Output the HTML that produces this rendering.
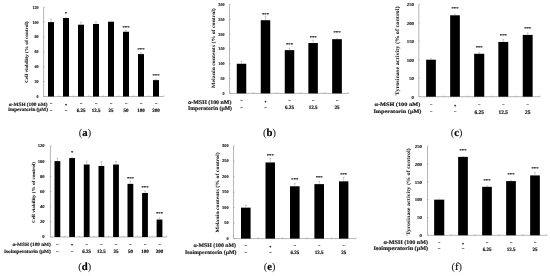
<!DOCTYPE html>
<html lang="en">
<head>
<meta charset="utf-8">
<title>Figure</title>
<style>
html,body{margin:0;padding:0;background:#fff;}
body{width:550px;height:276px;overflow:hidden;}
svg{display:block;}
svg text{text-rendering:geometricPrecision;font-family:"Liberation Serif", serif;font-weight:700;fill:#1a1a1a;stroke:#1a1a1a;stroke-width:0.12px;}
</style>
</head>
<body>
<svg width="550" height="276" viewBox="0 0 550 276">
<rect width="550" height="276" fill="#fff"/>
<g id="chart-a">
<path d="M43.6 7.22V96.5H163.6" fill="none" stroke="#858585" stroke-width="0.6"/>
<text x="38.7" y="97.92" font-size="4.3" text-anchor="end" textLength="2.1" lengthAdjust="spacingAndGlyphs">0</text>
<text x="38.7" y="83.04" font-size="4.3" text-anchor="end" textLength="4.2" lengthAdjust="spacingAndGlyphs">20</text>
<text x="38.7" y="68.16" font-size="4.3" text-anchor="end" textLength="4.2" lengthAdjust="spacingAndGlyphs">40</text>
<text x="38.7" y="53.28" font-size="4.3" text-anchor="end" textLength="4.2" lengthAdjust="spacingAndGlyphs">60</text>
<text x="38.7" y="38.4" font-size="4.3" text-anchor="end" textLength="4.2" lengthAdjust="spacingAndGlyphs">80</text>
<text x="38.7" y="23.52" font-size="4.3" text-anchor="end" textLength="6.3" lengthAdjust="spacingAndGlyphs">100</text>
<text x="38.7" y="8.64" font-size="4.3" text-anchor="end" textLength="6.3" lengthAdjust="spacingAndGlyphs">120</text>
<path d="M43.6 96.5h1.2M43.6 81.62h1.2M43.6 66.74h1.2M43.6 51.86h1.2M43.6 36.98h1.2M43.6 22.1h1.2M43.6 7.22h1.2M58.6 96.5v-1.2M73.6 96.5v-1.2M88.6 96.5v-1.2M103.6 96.5v-1.2M118.6 96.5v-1.2M133.6 96.5v-1.2M148.6 96.5v-1.2M163.6 96.5v-1.2" fill="none" stroke="#858585" stroke-width="0.5"/>
<rect x="48" y="22.1" width="6" height="74.4" fill="#000"/>
<path d="M51 22.1v-3m-0.8 0h1.6" fill="none" stroke="#8a8a8a" stroke-width="0.45"/>
<rect x="63" y="18.01" width="6" height="78.49" fill="#000"/>
<path d="M65.2 17.31h1.6" fill="none" stroke="#8a8a8a" stroke-width="0.45"/>
<text x="66" y="14.8" font-size="4.6" text-anchor="middle" style="fill:#1a1a1a;stroke:#1a1a1a;stroke-width:0.08px">*</text>
<rect x="78" y="24.7" width="6" height="71.8" fill="#000"/>
<path d="M81 24.7v-2.5m-0.8 0h1.6" fill="none" stroke="#8a8a8a" stroke-width="0.45"/>
<rect x="93" y="23.96" width="6" height="72.54" fill="#000"/>
<path d="M96 23.96v-2.5m-0.8 0h1.6" fill="none" stroke="#8a8a8a" stroke-width="0.45"/>
<rect x="108" y="21.73" width="6" height="74.77" fill="#000"/>
<path d="M110.2 21.23h1.6" fill="none" stroke="#8a8a8a" stroke-width="0.45"/>
<rect x="123" y="31.77" width="6" height="64.73" fill="#000"/>
<path d="M126 31.77v-1.5m-0.8 0h1.6" fill="none" stroke="#8a8a8a" stroke-width="0.45"/>
<text x="126" y="28.6" font-size="4.6" text-anchor="middle" style="fill:#1a1a1a;stroke:#1a1a1a;stroke-width:0.08px">***</text>
<rect x="138" y="54.09" width="6" height="42.41" fill="#000"/>
<path d="M141 54.09v-1.2m-0.8 0h1.6" fill="none" stroke="#8a8a8a" stroke-width="0.45"/>
<text x="141" y="51" font-size="4.6" text-anchor="middle" style="fill:#1a1a1a;stroke:#1a1a1a;stroke-width:0.08px">***</text>
<rect x="153" y="80.13" width="6" height="16.37" fill="#000"/>
<path d="M156 80.13v-1m-0.8 0h1.6" fill="none" stroke="#8a8a8a" stroke-width="0.45"/>
<text x="156" y="77.2" font-size="4.6" text-anchor="middle" style="fill:#1a1a1a;stroke:#1a1a1a;stroke-width:0.08px">***</text>
<text transform="translate(28.3 52.15) rotate(-90)" font-size="4.7" text-anchor="middle" textLength="61.5" lengthAdjust="spacingAndGlyphs" style="stroke-width:0.04px">Cell viability (% of control)</text>
<text x="8.8" y="106" font-size="5.0" textLength="38.7" lengthAdjust="spacingAndGlyphs" style="stroke-width:0.16px">α-MSH (100 nM)</text>
<text x="7.9" y="111" font-size="5.0" textLength="40" lengthAdjust="spacingAndGlyphs" style="stroke-width:0.16px">Imperatorin (μM)</text>
<text x="49.65" y="105.33" font-size="5.0" textLength="2.7" lengthAdjust="spacingAndGlyphs" style="fill:#222;stroke:#222;stroke-width:0.15px">-</text>
<text x="66" y="106.09" font-size="3.6" text-anchor="middle" style="stroke-width:0.32px">+</text>
<text x="79.65" y="105.33" font-size="5.0" textLength="2.7" lengthAdjust="spacingAndGlyphs" style="fill:#222;stroke:#222;stroke-width:0.15px">-</text>
<text x="94.65" y="105.33" font-size="5.0" textLength="2.7" lengthAdjust="spacingAndGlyphs" style="fill:#222;stroke:#222;stroke-width:0.15px">-</text>
<text x="109.65" y="105.33" font-size="5.0" textLength="2.7" lengthAdjust="spacingAndGlyphs" style="fill:#222;stroke:#222;stroke-width:0.15px">-</text>
<text x="124.65" y="105.33" font-size="5.0" textLength="2.7" lengthAdjust="spacingAndGlyphs" style="fill:#222;stroke:#222;stroke-width:0.15px">-</text>
<text x="139.65" y="105.33" font-size="5.0" textLength="2.7" lengthAdjust="spacingAndGlyphs" style="fill:#222;stroke:#222;stroke-width:0.15px">-</text>
<text x="154.65" y="105.33" font-size="5.0" textLength="2.7" lengthAdjust="spacingAndGlyphs" style="fill:#222;stroke:#222;stroke-width:0.15px">-</text>
<text x="49.65" y="111.53" font-size="5.0" textLength="2.7" lengthAdjust="spacingAndGlyphs" style="fill:#222;stroke:#222;stroke-width:0.15px">-</text>
<text x="64.65" y="111.53" font-size="5.0" textLength="2.7" lengthAdjust="spacingAndGlyphs" style="fill:#222;stroke:#222;stroke-width:0.15px">-</text>
<text x="81" y="112.05" font-size="5.0" text-anchor="middle" style="stroke-width:0.2px">6.25</text>
<text x="96" y="112.05" font-size="5.0" text-anchor="middle" style="stroke-width:0.2px">12.5</text>
<text x="111" y="112.05" font-size="5.0" text-anchor="middle" style="stroke-width:0.2px">25</text>
<text x="126" y="112.05" font-size="5.0" text-anchor="middle" style="stroke-width:0.2px">50</text>
<text x="141" y="112.05" font-size="5.0" text-anchor="middle" style="stroke-width:0.2px">100</text>
<text x="156" y="112.05" font-size="5.0" text-anchor="middle" style="stroke-width:0.2px">200</text>
<text x="85" y="135.7" font-size="10.4" text-anchor="middle" style="font-weight:400;fill:#222;stroke:#222;stroke-width:0.08px">(<tspan font-size="10.7" style="font-weight:700;fill:#000;stroke:#000;stroke-width:0.2px">a</tspan>)</text>
</g>
<g id="chart-b">
<path d="M229.5 4.51V93.4H348.6" fill="none" stroke="#858585" stroke-width="0.6"/>
<text x="224.6" y="94.82" font-size="4.3" text-anchor="end" textLength="2.1" lengthAdjust="spacingAndGlyphs">0</text>
<text x="224.6" y="80" font-size="4.3" text-anchor="end" textLength="4.2" lengthAdjust="spacingAndGlyphs">50</text>
<text x="224.6" y="65.19" font-size="4.3" text-anchor="end" textLength="6.3" lengthAdjust="spacingAndGlyphs">100</text>
<text x="224.6" y="50.37" font-size="4.3" text-anchor="end" textLength="6.3" lengthAdjust="spacingAndGlyphs">150</text>
<text x="224.6" y="35.56" font-size="4.3" text-anchor="end" textLength="6.3" lengthAdjust="spacingAndGlyphs">200</text>
<text x="224.6" y="20.74" font-size="4.3" text-anchor="end" textLength="6.3" lengthAdjust="spacingAndGlyphs">250</text>
<text x="224.6" y="5.93" font-size="4.3" text-anchor="end" textLength="6.3" lengthAdjust="spacingAndGlyphs">300</text>
<path d="M229.5 93.4h1.2M229.5 78.59h1.2M229.5 63.77h1.2M229.5 48.96h1.2M229.5 34.14h1.2M229.5 19.33h1.2M229.5 4.51h1.2M253.32 93.4v-1.2M277.14 93.4v-1.2M300.96 93.4v-1.2M324.78 93.4v-1.2M348.6 93.4v-1.2" fill="none" stroke="#858585" stroke-width="0.5"/>
<rect x="236.75" y="63.77" width="9.5" height="29.63" fill="#000"/>
<path d="M241.5 63.77v-2.5m-0.8 0h1.6" fill="none" stroke="#8a8a8a" stroke-width="0.45"/>
<rect x="260.75" y="20.21" width="9.5" height="73.19" fill="#000"/>
<path d="M265.5 20.21v-4.2m-0.8 0h1.6" fill="none" stroke="#8a8a8a" stroke-width="0.45"/>
<text x="265.5" y="15.8" font-size="4.6" text-anchor="middle" style="fill:#1a1a1a;stroke:#1a1a1a;stroke-width:0.08px">***</text>
<rect x="284.75" y="50.14" width="9.5" height="43.26" fill="#000"/>
<path d="M289.5 50.14v-1.8m-0.8 0h1.6" fill="none" stroke="#8a8a8a" stroke-width="0.45"/>
<text x="289.5" y="45.8" font-size="4.6" text-anchor="middle" style="fill:#1a1a1a;stroke:#1a1a1a;stroke-width:0.08px">***</text>
<rect x="308.35" y="43.03" width="9.5" height="50.37" fill="#000"/>
<path d="M313.1 43.03v-3m-0.8 0h1.6" fill="none" stroke="#8a8a8a" stroke-width="0.45"/>
<text x="313.1" y="38.6" font-size="4.6" text-anchor="middle" style="fill:#1a1a1a;stroke:#1a1a1a;stroke-width:0.08px">***</text>
<rect x="332.15" y="39.18" width="9.7" height="54.22" fill="#000"/>
<path d="M336.2 38.48h1.6" fill="none" stroke="#8a8a8a" stroke-width="0.45"/>
<text x="337" y="34.2" font-size="4.6" text-anchor="middle" style="fill:#1a1a1a;stroke:#1a1a1a;stroke-width:0.08px">***</text>
<text transform="translate(215 48.15) rotate(-90)" font-size="5" text-anchor="middle" textLength="79.7" lengthAdjust="spacingAndGlyphs" style="stroke-width:0.04px">Melanin contents (% of control)</text>
<text x="188" y="103.9" font-size="5.6" textLength="43.4" lengthAdjust="spacingAndGlyphs" style="stroke-width:0.16px">α-MSH (100 nM)</text>
<text x="188" y="110" font-size="5.6" textLength="44" lengthAdjust="spacingAndGlyphs" style="stroke-width:0.16px">Imperatorin (μM)</text>
<text x="240.15" y="101.75" font-size="5.1" textLength="2.7" lengthAdjust="spacingAndGlyphs" style="fill:#222;stroke:#222;stroke-width:0.15px">-</text>
<text x="265.5" y="102.51" font-size="3.67" text-anchor="middle" style="stroke-width:0.32px">+</text>
<text x="288.15" y="101.75" font-size="5.1" textLength="2.7" lengthAdjust="spacingAndGlyphs" style="fill:#222;stroke:#222;stroke-width:0.15px">-</text>
<text x="311.75" y="101.75" font-size="5.1" textLength="2.7" lengthAdjust="spacingAndGlyphs" style="fill:#222;stroke:#222;stroke-width:0.15px">-</text>
<text x="335.65" y="101.75" font-size="5.1" textLength="2.7" lengthAdjust="spacingAndGlyphs" style="fill:#222;stroke:#222;stroke-width:0.15px">-</text>
<text x="240.15" y="108.55" font-size="5.1" textLength="2.7" lengthAdjust="spacingAndGlyphs" style="fill:#222;stroke:#222;stroke-width:0.15px">-</text>
<text x="264.15" y="108.55" font-size="5.1" textLength="2.7" lengthAdjust="spacingAndGlyphs" style="fill:#222;stroke:#222;stroke-width:0.15px">-</text>
<text x="289.5" y="109.08" font-size="5.1" text-anchor="middle" style="stroke-width:0.2px">6.25</text>
<text x="313.1" y="109.08" font-size="5.1" text-anchor="middle" style="stroke-width:0.2px">12.5</text>
<text x="337" y="109.08" font-size="5.1" text-anchor="middle" style="stroke-width:0.2px">25</text>
<text x="269.4" y="135.7" font-size="10.4" text-anchor="middle" style="font-weight:400;fill:#222;stroke:#222;stroke-width:0.08px">(<tspan font-size="10.7" style="font-weight:700;fill:#000;stroke:#000;stroke-width:0.2px">b</tspan>)</text>
</g>
<g id="chart-c">
<path d="M418.8 4.2V96.7H540" fill="none" stroke="#858585" stroke-width="0.6"/>
<text x="414" y="98.52" font-size="4.6" text-anchor="end" textLength="2.4" lengthAdjust="spacingAndGlyphs">0</text>
<text x="414" y="80.02" font-size="4.6" text-anchor="end" textLength="4.8" lengthAdjust="spacingAndGlyphs">50</text>
<text x="414" y="61.52" font-size="4.6" text-anchor="end" textLength="7.2" lengthAdjust="spacingAndGlyphs">100</text>
<text x="414" y="43.02" font-size="4.6" text-anchor="end" textLength="7.2" lengthAdjust="spacingAndGlyphs">150</text>
<text x="414" y="24.52" font-size="4.6" text-anchor="end" textLength="7.2" lengthAdjust="spacingAndGlyphs">200</text>
<text x="414" y="6.02" font-size="4.6" text-anchor="end" textLength="7.2" lengthAdjust="spacingAndGlyphs">250</text>
<path d="M418.8 96.7h1.2M418.8 78.2h1.2M418.8 59.7h1.2M418.8 41.2h1.2M418.8 22.7h1.2M418.8 4.2h1.2M443.04 96.7v-1.2M467.28 96.7v-1.2M491.52 96.7v-1.2M515.76 96.7v-1.2M540 96.7v-1.2" fill="none" stroke="#858585" stroke-width="0.5"/>
<rect x="426.15" y="59.7" width="9.7" height="37" fill="#000"/>
<path d="M431 59.7v-1m-0.8 0h1.6" fill="none" stroke="#8a8a8a" stroke-width="0.45"/>
<rect x="450.15" y="15.3" width="9.7" height="81.4" fill="#000"/>
<path d="M455 15.3v-1m-0.8 0h1.6" fill="none" stroke="#8a8a8a" stroke-width="0.45"/>
<text x="455" y="10.1" font-size="4.6" text-anchor="middle" style="fill:#1a1a1a;stroke:#1a1a1a;stroke-width:0.08px">***</text>
<rect x="474.15" y="53.78" width="10.1" height="42.92" fill="#000"/>
<path d="M479.2 53.78v-1.5m-0.8 0h1.6" fill="none" stroke="#8a8a8a" stroke-width="0.45"/>
<text x="479.2" y="49.1" font-size="4.6" text-anchor="middle" style="fill:#1a1a1a;stroke:#1a1a1a;stroke-width:0.08px">***</text>
<rect x="498.35" y="41.94" width="9.9" height="54.76" fill="#000"/>
<path d="M503.3 41.94v-2.5m-0.8 0h1.6" fill="none" stroke="#8a8a8a" stroke-width="0.45"/>
<text x="503.3" y="36.7" font-size="4.6" text-anchor="middle" style="fill:#1a1a1a;stroke:#1a1a1a;stroke-width:0.08px">***</text>
<rect x="522.75" y="34.91" width="9.9" height="61.79" fill="#000"/>
<path d="M527.7 34.91v-2m-0.8 0h1.6" fill="none" stroke="#8a8a8a" stroke-width="0.45"/>
<text x="527.7" y="29.7" font-size="4.6" text-anchor="middle" style="fill:#1a1a1a;stroke:#1a1a1a;stroke-width:0.08px">***</text>
<text transform="translate(399.2 50.9) rotate(-90)" font-size="5.4" text-anchor="middle" textLength="88.8" lengthAdjust="spacingAndGlyphs" style="stroke-width:0.04px">Tyrosinase activity (% of control)</text>
<text x="374.4" y="106.2" font-size="5.2" textLength="46" lengthAdjust="spacingAndGlyphs" style="stroke-width:0.16px">α-MSH (100 nM)</text>
<text x="373.4" y="112.7" font-size="5.2" textLength="48" lengthAdjust="spacingAndGlyphs" style="stroke-width:0.16px">Imperatorin (μM)</text>
<text x="429.65" y="106.22" font-size="5.4" textLength="2.7" lengthAdjust="spacingAndGlyphs" style="fill:#222;stroke:#222;stroke-width:0.15px">-</text>
<text x="455" y="106.98" font-size="3.89" text-anchor="middle" style="stroke-width:0.32px">+</text>
<text x="477.85" y="106.22" font-size="5.4" textLength="2.7" lengthAdjust="spacingAndGlyphs" style="fill:#222;stroke:#222;stroke-width:0.15px">-</text>
<text x="501.95" y="106.22" font-size="5.4" textLength="2.7" lengthAdjust="spacingAndGlyphs" style="fill:#222;stroke:#222;stroke-width:0.15px">-</text>
<text x="526.35" y="106.22" font-size="5.4" textLength="2.7" lengthAdjust="spacingAndGlyphs" style="fill:#222;stroke:#222;stroke-width:0.15px">-</text>
<text x="429.65" y="112.81" font-size="5.4" textLength="2.7" lengthAdjust="spacingAndGlyphs" style="fill:#222;stroke:#222;stroke-width:0.15px">-</text>
<text x="453.65" y="112.81" font-size="5.4" textLength="2.7" lengthAdjust="spacingAndGlyphs" style="fill:#222;stroke:#222;stroke-width:0.15px">-</text>
<text x="479.2" y="113.78" font-size="5.4" text-anchor="middle" style="stroke-width:0.2px">6.25</text>
<text x="503.3" y="113.78" font-size="5.4" text-anchor="middle" style="stroke-width:0.2px">12.5</text>
<text x="527.7" y="113.78" font-size="5.4" text-anchor="middle" style="stroke-width:0.2px">25</text>
<text x="456.5" y="135.7" font-size="10.4" text-anchor="middle" style="font-weight:400;fill:#222;stroke:#222;stroke-width:0.08px">(<tspan font-size="10.7" style="font-weight:700;fill:#000;stroke:#000;stroke-width:0.2px">c</tspan>)</text>
</g>
<g id="chart-d">
<path d="M50.4 145.92V237H166.6" fill="none" stroke="#858585" stroke-width="0.6"/>
<text x="44.6" y="238.49" font-size="4.5" text-anchor="end" textLength="2.3" lengthAdjust="spacingAndGlyphs">0</text>
<text x="44.6" y="223.31" font-size="4.5" text-anchor="end" textLength="4.6" lengthAdjust="spacingAndGlyphs">20</text>
<text x="44.6" y="208.12" font-size="4.5" text-anchor="end" textLength="4.6" lengthAdjust="spacingAndGlyphs">40</text>
<text x="44.6" y="192.95" font-size="4.5" text-anchor="end" textLength="4.6" lengthAdjust="spacingAndGlyphs">60</text>
<text x="44.6" y="177.77" font-size="4.5" text-anchor="end" textLength="4.6" lengthAdjust="spacingAndGlyphs">80</text>
<text x="44.6" y="162.59" font-size="4.5" text-anchor="end" textLength="6.9" lengthAdjust="spacingAndGlyphs">100</text>
<text x="44.6" y="147.41" font-size="4.5" text-anchor="end" textLength="6.9" lengthAdjust="spacingAndGlyphs">120</text>
<path d="M50.4 237h1.2M50.4 221.82h1.2M50.4 206.64h1.2M50.4 191.46h1.2M50.4 176.28h1.2M50.4 161.1h1.2M50.4 145.92h1.2M64.92 237v-1.2M79.45 237v-1.2M93.97 237v-1.2M108.5 237v-1.2M123.03 237v-1.2M137.55 237v-1.2M152.07 237v-1.2M166.6 237v-1.2" fill="none" stroke="#858585" stroke-width="0.5"/>
<rect x="54.5" y="161.1" width="5.8" height="75.9" fill="#000"/>
<path d="M57.4 161.1v-3m-0.8 0h1.6" fill="none" stroke="#8a8a8a" stroke-width="0.45"/>
<rect x="69.2" y="158.06" width="5.8" height="78.94" fill="#000"/>
<path d="M71.3 157.36h1.6" fill="none" stroke="#8a8a8a" stroke-width="0.45"/>
<text x="72.1" y="153.6" font-size="4.6" text-anchor="middle" style="fill:#1a1a1a;stroke:#1a1a1a;stroke-width:0.08px">*</text>
<rect x="83.8" y="164.52" width="5.8" height="72.48" fill="#000"/>
<path d="M86.7 164.52v-3.5m-0.8 0h1.6" fill="none" stroke="#8a8a8a" stroke-width="0.45"/>
<rect x="98.5" y="165.96" width="5.8" height="71.04" fill="#000"/>
<path d="M101.4 165.96v-4.5m-0.8 0h1.6" fill="none" stroke="#8a8a8a" stroke-width="0.45"/>
<rect x="113.1" y="164.52" width="5.8" height="72.48" fill="#000"/>
<path d="M116 164.52v-3m-0.8 0h1.6" fill="none" stroke="#8a8a8a" stroke-width="0.45"/>
<rect x="127.5" y="183.87" width="5.8" height="53.13" fill="#000"/>
<path d="M130.4 183.87v-3m-0.8 0h1.6" fill="none" stroke="#8a8a8a" stroke-width="0.45"/>
<text x="130.4" y="179.6" font-size="4.6" text-anchor="middle" style="fill:#1a1a1a;stroke:#1a1a1a;stroke-width:0.08px">***</text>
<rect x="142.1" y="192.98" width="5.8" height="44.02" fill="#000"/>
<path d="M145 192.98v-2m-0.8 0h1.6" fill="none" stroke="#8a8a8a" stroke-width="0.45"/>
<text x="145" y="188.8" font-size="4.6" text-anchor="middle" style="fill:#1a1a1a;stroke:#1a1a1a;stroke-width:0.08px">***</text>
<rect x="156.6" y="219.54" width="5.8" height="17.46" fill="#000"/>
<path d="M159.5 219.54v-1.5m-0.8 0h1.6" fill="none" stroke="#8a8a8a" stroke-width="0.45"/>
<text x="159.5" y="215.2" font-size="4.6" text-anchor="middle" style="fill:#1a1a1a;stroke:#1a1a1a;stroke-width:0.08px">***</text>
<text transform="translate(35.1 192.5) rotate(-90)" font-size="4.6" text-anchor="middle" textLength="61" lengthAdjust="spacingAndGlyphs" style="stroke-width:0.04px">Cell viability (% of control)</text>
<text x="12.4" y="246" font-size="5.0" textLength="38.4" lengthAdjust="spacingAndGlyphs" style="stroke-width:0.16px">α-MSH (100 nM)</text>
<text x="4" y="253" font-size="5.0" textLength="46.8" lengthAdjust="spacingAndGlyphs" style="stroke-width:0.16px">Isoimperatorin (μM)</text>
<text x="56.05" y="245.53" font-size="5.0" textLength="2.7" lengthAdjust="spacingAndGlyphs" style="fill:#222;stroke:#222;stroke-width:0.15px">-</text>
<text x="72.1" y="246.29" font-size="3.6" text-anchor="middle" style="stroke-width:0.32px">+</text>
<text x="85.35" y="245.53" font-size="5.0" textLength="2.7" lengthAdjust="spacingAndGlyphs" style="fill:#222;stroke:#222;stroke-width:0.15px">-</text>
<text x="100.05" y="245.53" font-size="5.0" textLength="2.7" lengthAdjust="spacingAndGlyphs" style="fill:#222;stroke:#222;stroke-width:0.15px">-</text>
<text x="114.65" y="245.53" font-size="5.0" textLength="2.7" lengthAdjust="spacingAndGlyphs" style="fill:#222;stroke:#222;stroke-width:0.15px">-</text>
<text x="129.05" y="245.53" font-size="5.0" textLength="2.7" lengthAdjust="spacingAndGlyphs" style="fill:#222;stroke:#222;stroke-width:0.15px">-</text>
<text x="143.65" y="245.53" font-size="5.0" textLength="2.7" lengthAdjust="spacingAndGlyphs" style="fill:#222;stroke:#222;stroke-width:0.15px">-</text>
<text x="158.15" y="245.53" font-size="5.0" textLength="2.7" lengthAdjust="spacingAndGlyphs" style="fill:#222;stroke:#222;stroke-width:0.15px">-</text>
<text x="56.05" y="252.53" font-size="5.0" textLength="2.7" lengthAdjust="spacingAndGlyphs" style="fill:#222;stroke:#222;stroke-width:0.15px">-</text>
<text x="70.75" y="252.53" font-size="5.0" textLength="2.7" lengthAdjust="spacingAndGlyphs" style="fill:#222;stroke:#222;stroke-width:0.15px">-</text>
<text x="86.7" y="253.05" font-size="5.0" text-anchor="middle" style="stroke-width:0.2px">6.25</text>
<text x="101.4" y="253.05" font-size="5.0" text-anchor="middle" style="stroke-width:0.2px">12.5</text>
<text x="116" y="253.05" font-size="5.0" text-anchor="middle" style="stroke-width:0.2px">25</text>
<text x="130.4" y="253.05" font-size="5.0" text-anchor="middle" style="stroke-width:0.2px">50</text>
<text x="145" y="253.05" font-size="5.0" text-anchor="middle" style="stroke-width:0.2px">100</text>
<text x="159.5" y="253.05" font-size="5.0" text-anchor="middle" style="stroke-width:0.2px">200</text>
<text x="84.7" y="270.4" font-size="10.4" text-anchor="middle" style="font-weight:400;fill:#222;stroke:#222;stroke-width:0.08px">(<tspan font-size="10.7" style="font-weight:700;fill:#000;stroke:#000;stroke-width:0.2px">d</tspan>)</text>
</g>
<g id="chart-e">
<path d="M233.5 145.75V238.6H356" fill="none" stroke="#858585" stroke-width="0.6"/>
<text x="228.6" y="239.65" font-size="4.4" text-anchor="end" textLength="2.2" lengthAdjust="spacingAndGlyphs">0</text>
<text x="228.6" y="224.18" font-size="4.4" text-anchor="end" textLength="4.4" lengthAdjust="spacingAndGlyphs">50</text>
<text x="228.6" y="208.7" font-size="4.4" text-anchor="end" textLength="6.6" lengthAdjust="spacingAndGlyphs">100</text>
<text x="228.6" y="193.23" font-size="4.4" text-anchor="end" textLength="6.6" lengthAdjust="spacingAndGlyphs">150</text>
<text x="228.6" y="177.75" font-size="4.4" text-anchor="end" textLength="6.6" lengthAdjust="spacingAndGlyphs">200</text>
<text x="228.6" y="162.28" font-size="4.4" text-anchor="end" textLength="6.6" lengthAdjust="spacingAndGlyphs">250</text>
<text x="228.6" y="146.8" font-size="4.4" text-anchor="end" textLength="6.6" lengthAdjust="spacingAndGlyphs">300</text>
<path d="M233.5 238.6h1.2M233.5 223.12h1.2M233.5 207.65h1.2M233.5 192.18h1.2M233.5 176.7h1.2M233.5 161.22h1.2M233.5 145.75h1.2M258 238.6v-1.2M282.5 238.6v-1.2M307 238.6v-1.2M331.5 238.6v-1.2M356 238.6v-1.2" fill="none" stroke="#858585" stroke-width="0.5"/>
<rect x="241" y="207.65" width="9.6" height="30.95" fill="#000"/>
<path d="M245.8 207.65v-2.5m-0.8 0h1.6" fill="none" stroke="#8a8a8a" stroke-width="0.45"/>
<rect x="265.5" y="162.46" width="9.5" height="76.14" fill="#000"/>
<path d="M270.25 162.46v-4.5m-0.8 0h1.6" fill="none" stroke="#8a8a8a" stroke-width="0.45"/>
<text x="270.25" y="157.2" font-size="4.6" text-anchor="middle" style="fill:#1a1a1a;stroke:#1a1a1a;stroke-width:0.08px">***</text>
<rect x="290" y="186.29" width="9.6" height="52.31" fill="#000"/>
<path d="M294.8 186.29v-3m-0.8 0h1.6" fill="none" stroke="#8a8a8a" stroke-width="0.45"/>
<text x="294.8" y="181" font-size="4.6" text-anchor="middle" style="fill:#1a1a1a;stroke:#1a1a1a;stroke-width:0.08px">***</text>
<rect x="314.4" y="184.13" width="9.6" height="54.47" fill="#000"/>
<path d="M319.2 184.13v-3m-0.8 0h1.6" fill="none" stroke="#8a8a8a" stroke-width="0.45"/>
<text x="319.2" y="179.2" font-size="4.6" text-anchor="middle" style="fill:#1a1a1a;stroke:#1a1a1a;stroke-width:0.08px">***</text>
<rect x="339" y="181.34" width="9.4" height="57.26" fill="#000"/>
<path d="M343.7 181.34v-4m-0.8 0h1.6" fill="none" stroke="#8a8a8a" stroke-width="0.45"/>
<text x="343.7" y="176.2" font-size="4.6" text-anchor="middle" style="fill:#1a1a1a;stroke:#1a1a1a;stroke-width:0.08px">***</text>
<text transform="translate(219.3 192.4) rotate(-90)" font-size="5" text-anchor="middle" textLength="80" lengthAdjust="spacingAndGlyphs" style="stroke-width:0.04px">Melanin contents (% of control)</text>
<text x="193.4" y="247" font-size="5.5" textLength="42.6" lengthAdjust="spacingAndGlyphs" style="stroke-width:0.16px">α-MSH (100 nM)</text>
<text x="185" y="254" font-size="5.5" textLength="51.4" lengthAdjust="spacingAndGlyphs" style="stroke-width:0.16px">Isoimperatorin (μM)</text>
<text x="244.45" y="247.12" font-size="5.0" textLength="2.7" lengthAdjust="spacingAndGlyphs" style="fill:#222;stroke:#222;stroke-width:0.15px">-</text>
<text x="270.25" y="247.89" font-size="3.6" text-anchor="middle" style="stroke-width:0.32px">+</text>
<text x="293.45" y="247.12" font-size="5.0" textLength="2.7" lengthAdjust="spacingAndGlyphs" style="fill:#222;stroke:#222;stroke-width:0.15px">-</text>
<text x="317.85" y="247.12" font-size="5.0" textLength="2.7" lengthAdjust="spacingAndGlyphs" style="fill:#222;stroke:#222;stroke-width:0.15px">-</text>
<text x="342.35" y="247.12" font-size="5.0" textLength="2.7" lengthAdjust="spacingAndGlyphs" style="fill:#222;stroke:#222;stroke-width:0.15px">-</text>
<text x="244.45" y="253.72" font-size="5.0" textLength="2.7" lengthAdjust="spacingAndGlyphs" style="fill:#222;stroke:#222;stroke-width:0.15px">-</text>
<text x="268.9" y="253.72" font-size="5.0" textLength="2.7" lengthAdjust="spacingAndGlyphs" style="fill:#222;stroke:#222;stroke-width:0.15px">-</text>
<text x="294.8" y="254.25" font-size="5.0" text-anchor="middle" style="stroke-width:0.2px">6.25</text>
<text x="319.2" y="254.25" font-size="5.0" text-anchor="middle" style="stroke-width:0.2px">12.5</text>
<text x="343.7" y="254.25" font-size="5.0" text-anchor="middle" style="stroke-width:0.2px">25</text>
<text x="269.5" y="270" font-size="10.4" text-anchor="middle" style="font-weight:400;fill:#222;stroke:#222;stroke-width:0.08px">(<tspan font-size="10.7" style="font-weight:700;fill:#000;stroke:#000;stroke-width:0.2px">e</tspan>)</text>
</g>
<g id="chart-f">
<path d="M427.5 146.18V235.3H546.5" fill="none" stroke="#858585" stroke-width="0.6"/>
<text x="422" y="237.02" font-size="4.6" text-anchor="end" textLength="2.4" lengthAdjust="spacingAndGlyphs">0</text>
<text x="422" y="219.19" font-size="4.6" text-anchor="end" textLength="4.8" lengthAdjust="spacingAndGlyphs">50</text>
<text x="422" y="201.37" font-size="4.6" text-anchor="end" textLength="7.2" lengthAdjust="spacingAndGlyphs">100</text>
<text x="422" y="183.54" font-size="4.6" text-anchor="end" textLength="7.2" lengthAdjust="spacingAndGlyphs">150</text>
<text x="422" y="165.72" font-size="4.6" text-anchor="end" textLength="7.2" lengthAdjust="spacingAndGlyphs">200</text>
<text x="422" y="147.89" font-size="4.6" text-anchor="end" textLength="7.2" lengthAdjust="spacingAndGlyphs">250</text>
<path d="M427.5 235.3h1.2M427.5 217.48h1.2M427.5 199.65h1.2M427.5 181.83h1.2M427.5 164h1.2M427.5 146.18h1.2M451.3 235.3v-1.2M475.1 235.3v-1.2M498.9 235.3v-1.2M522.7 235.3v-1.2M546.5 235.3v-1.2" fill="none" stroke="#858585" stroke-width="0.5"/>
<rect x="434.15" y="199.65" width="10.1" height="35.65" fill="#000"/>
<path d="M438.4 198.95h1.6" fill="none" stroke="#8a8a8a" stroke-width="0.45"/>
<rect x="458.15" y="156.87" width="9.7" height="78.43" fill="#000"/>
<path d="M462.2 156.17h1.6" fill="none" stroke="#8a8a8a" stroke-width="0.45"/>
<text x="463" y="151.6" font-size="4.6" text-anchor="middle" style="fill:#1a1a1a;stroke:#1a1a1a;stroke-width:0.08px">***</text>
<rect x="482.15" y="186.82" width="9.7" height="48.48" fill="#000"/>
<path d="M487 186.82v-1m-0.8 0h1.6" fill="none" stroke="#8a8a8a" stroke-width="0.45"/>
<text x="487" y="181.8" font-size="4.6" text-anchor="middle" style="fill:#1a1a1a;stroke:#1a1a1a;stroke-width:0.08px">***</text>
<rect x="506.15" y="181.11" width="9.7" height="54.19" fill="#000"/>
<path d="M511 181.11v-1m-0.8 0h1.6" fill="none" stroke="#8a8a8a" stroke-width="0.45"/>
<text x="511" y="176.2" font-size="4.6" text-anchor="middle" style="fill:#1a1a1a;stroke:#1a1a1a;stroke-width:0.08px">***</text>
<rect x="530.15" y="175.41" width="9.7" height="59.89" fill="#000"/>
<path d="M535 175.41v-3m-0.8 0h1.6" fill="none" stroke="#8a8a8a" stroke-width="0.45"/>
<text x="535" y="170.2" font-size="4.6" text-anchor="middle" style="fill:#1a1a1a;stroke:#1a1a1a;stroke-width:0.08px">***</text>
<text transform="translate(410.4 191.8) rotate(-90)" font-size="5.2" text-anchor="middle" textLength="87" lengthAdjust="spacingAndGlyphs" style="stroke-width:0.04px">Tyrosinase activity (% of control)</text>
<text x="383.4" y="243.5" font-size="5.7" textLength="44.6" lengthAdjust="spacingAndGlyphs" style="stroke-width:0.16px">α-MSH (100 nM)</text>
<text x="373.4" y="250.3" font-size="5.7" textLength="54.6" lengthAdjust="spacingAndGlyphs" style="stroke-width:0.16px">Isoimperatorin (μM)</text>
<text x="437.85" y="243.82" font-size="5.0" textLength="2.7" lengthAdjust="spacingAndGlyphs" style="fill:#222;stroke:#222;stroke-width:0.15px">-</text>
<text x="463" y="244.59" font-size="3.6" text-anchor="middle" style="stroke-width:0.32px">+</text>
<text x="485.65" y="243.82" font-size="5.0" textLength="2.7" lengthAdjust="spacingAndGlyphs" style="fill:#222;stroke:#222;stroke-width:0.15px">-</text>
<text x="509.65" y="243.82" font-size="5.0" textLength="2.7" lengthAdjust="spacingAndGlyphs" style="fill:#222;stroke:#222;stroke-width:0.15px">-</text>
<text x="533.65" y="243.82" font-size="5.0" textLength="2.7" lengthAdjust="spacingAndGlyphs" style="fill:#222;stroke:#222;stroke-width:0.15px">-</text>
<text x="437.85" y="250.03" font-size="5.0" textLength="2.7" lengthAdjust="spacingAndGlyphs" style="fill:#222;stroke:#222;stroke-width:0.15px">-</text>
<text x="461.65" y="250.03" font-size="5.0" textLength="2.7" lengthAdjust="spacingAndGlyphs" style="fill:#222;stroke:#222;stroke-width:0.15px">-</text>
<text x="487" y="250.55" font-size="5.0" text-anchor="middle" style="stroke-width:0.2px">6.25</text>
<text x="511" y="250.55" font-size="5.0" text-anchor="middle" style="stroke-width:0.2px">12.5</text>
<text x="535" y="250.55" font-size="5.0" text-anchor="middle" style="stroke-width:0.2px">25</text>
<text x="456.8" y="270.4" font-size="10.4" text-anchor="middle" style="font-weight:400;fill:#222;stroke:#222;stroke-width:0.08px">(<tspan font-size="10.7" style="font-weight:400;fill:#000;stroke:#000;stroke-width:0.12px">f</tspan>)</text>
</g>
</svg>
</body>
</html>
